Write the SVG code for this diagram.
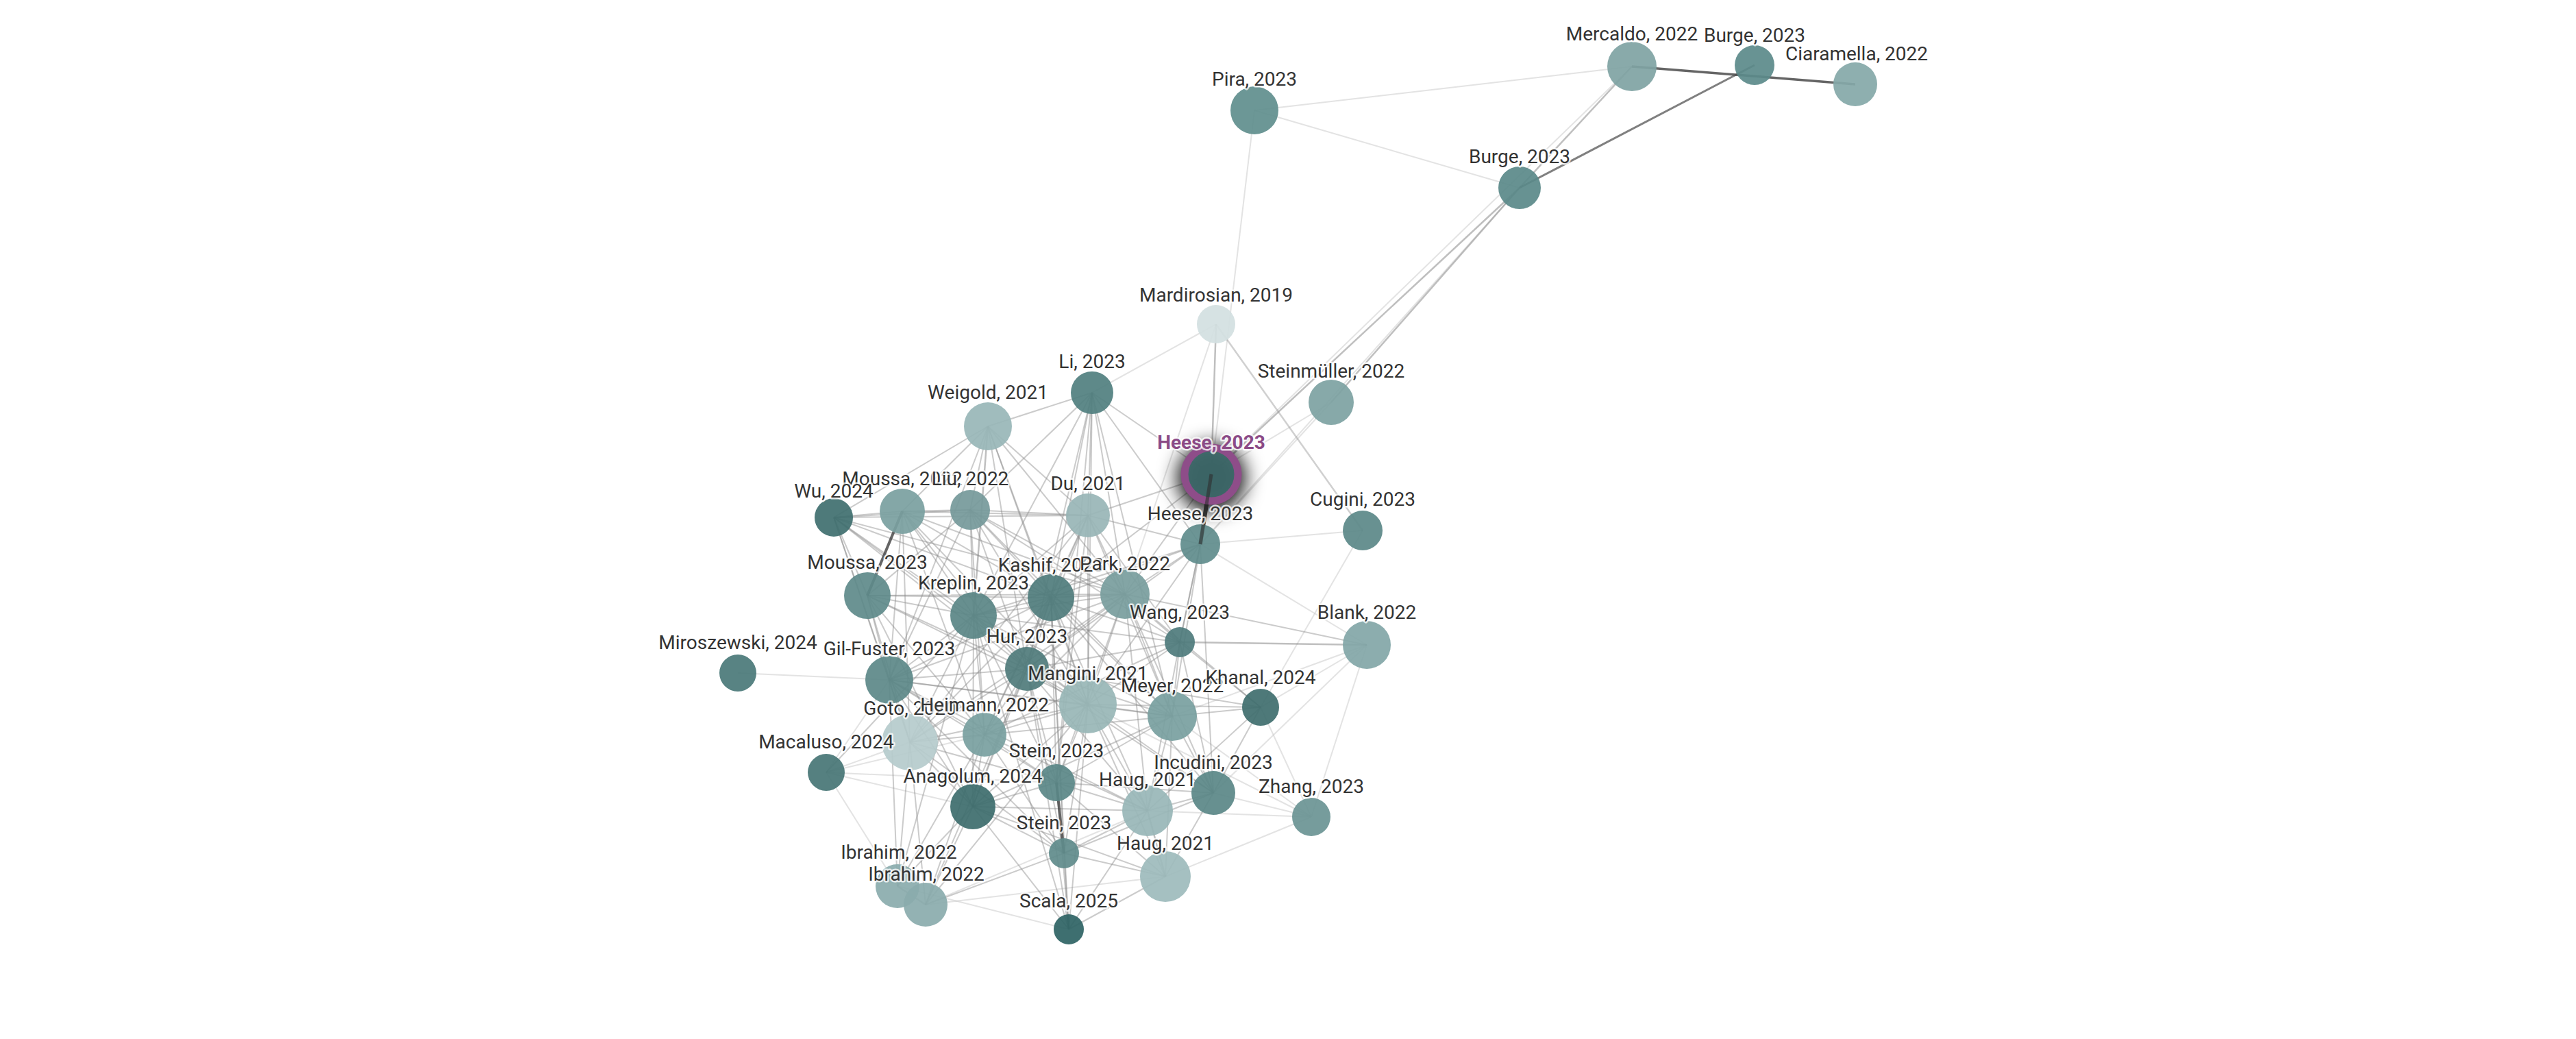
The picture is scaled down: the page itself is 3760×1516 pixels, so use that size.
<svg xmlns="http://www.w3.org/2000/svg" width="3760" height="1516" viewBox="0 0 3760 1516">
<style>
.bg{fill:#ffffff}
.e line{stroke:#8c8c8c;stroke-opacity:.45;stroke-width:2}
.l line{stroke:#c8c8c8;stroke-opacity:.5;stroke-width:2}
.m line{stroke:#8a8a8a;stroke-opacity:.55;stroke-width:2.5}
.d line{stroke:#4a4a4a;stroke-opacity:.85;stroke-width:4}
.node circle{fill-opacity:.92}
.lab{font-family:Roboto,"Liberation Sans",sans-serif;font-size:28px;fill:#333333;text-anchor:middle;stroke:#ffffff;stroke-opacity:.75;stroke-width:5;stroke-linejoin:round;paint-order:stroke}
.hl{fill:#8b4a86;font-weight:700}
</style>
<defs>
<filter id="sh" x="-100%" y="-100%" width="300%" height="300%"><feGaussianBlur stdDeviation="14"/></filter>
</defs>
<rect class="bg" x="0" y="0" width="3760" height="1516"/>
<g id="connectors">
<g class="l">
<line x1="1831" y1="161" x2="2382" y2="97"/>
<line x1="1831" y1="161" x2="2218" y2="274"/>
<line x1="1831" y1="161" x2="1768" y2="692"/>
<line x1="2382" y1="97" x2="1768" y2="692"/>
<line x1="2218" y1="274" x2="1752" y2="794"/>
<line x1="1775" y1="473" x2="1594" y2="573"/>
<line x1="1943" y1="587" x2="1768" y2="692"/>
<line x1="1943" y1="587" x2="1752" y2="794"/>
<line x1="1752" y1="794" x2="1989" y2="774"/>
<line x1="1752" y1="794" x2="1995" y2="941"/>
<line x1="1775" y1="473" x2="1642" y2="867"/>
<line x1="1995" y1="941" x2="1711" y2="1045"/>
<line x1="1995" y1="941" x2="1771" y2="1157"/>
<line x1="1995" y1="941" x2="1914" y2="1192"/>
<line x1="1995" y1="941" x2="1840" y2="1032"/>
<line x1="1989" y1="774" x2="1840" y2="1032"/>
<line x1="1077" y1="982" x2="1298" y2="992"/>
<line x1="1206" y1="1127" x2="1420" y2="1177"/>
<line x1="1206" y1="1127" x2="1437" y2="1072"/>
<line x1="1206" y1="1127" x2="1310" y2="1293"/>
<line x1="1206" y1="1127" x2="1542" y2="1142"/>
<line x1="1206" y1="1127" x2="1328" y2="1083"/>
<line x1="1206" y1="1127" x2="1298" y2="992"/>
<line x1="1914" y1="1192" x2="1771" y2="1157"/>
<line x1="1914" y1="1192" x2="1675" y2="1183"/>
<line x1="1914" y1="1192" x2="1701" y2="1279"/>
<line x1="1914" y1="1192" x2="1711" y2="1045"/>
<line x1="1914" y1="1192" x2="1840" y2="1032"/>
<line x1="1914" y1="1192" x2="1588" y2="1028"/>
<line x1="1310" y1="1293" x2="1560" y2="1356"/>
<line x1="1351" y1="1320" x2="1701" y2="1279"/>
<line x1="1351" y1="1320" x2="1675" y2="1183"/>
</g>
<g class="e">
<line x1="1594" y1="573" x2="1588" y2="752"/>
<line x1="1594" y1="573" x2="1534" y2="872"/>
<line x1="1594" y1="573" x2="1642" y2="867"/>
<line x1="1594" y1="573" x2="1499" y2="976"/>
<line x1="1594" y1="573" x2="1421" y2="898"/>
<line x1="1594" y1="573" x2="1416" y2="744"/>
<line x1="1594" y1="573" x2="1588" y2="1028"/>
<line x1="1594" y1="573" x2="1752" y2="794"/>
<line x1="1594" y1="573" x2="1542" y2="1142"/>
<line x1="1594" y1="573" x2="1711" y2="1045"/>
<line x1="1594" y1="573" x2="1442" y2="622"/>
<line x1="1442" y1="622" x2="1217" y2="755"/>
<line x1="1442" y1="622" x2="1534" y2="872"/>
<line x1="1442" y1="622" x2="1588" y2="1028"/>
<line x1="1442" y1="622" x2="1499" y2="976"/>
<line x1="1442" y1="622" x2="1416" y2="744"/>
<line x1="1442" y1="622" x2="1317" y2="746"/>
<line x1="1442" y1="622" x2="1642" y2="867"/>
<line x1="1442" y1="622" x2="1298" y2="992"/>
<line x1="1442" y1="622" x2="1588" y2="752"/>
<line x1="1217" y1="755" x2="1317" y2="746"/>
<line x1="1217" y1="755" x2="1416" y2="744"/>
<line x1="1217" y1="755" x2="1266" y2="869"/>
<line x1="1217" y1="755" x2="1298" y2="992"/>
<line x1="1217" y1="755" x2="1421" y2="898"/>
<line x1="1217" y1="755" x2="1534" y2="872"/>
<line x1="1217" y1="755" x2="1642" y2="867"/>
<line x1="1217" y1="755" x2="1499" y2="976"/>
<line x1="1217" y1="755" x2="1588" y2="1028"/>
<line x1="1217" y1="755" x2="1328" y2="1083"/>
<line x1="1217" y1="755" x2="1588" y2="752"/>
<line x1="1317" y1="746" x2="1416" y2="744"/>
<line x1="1317" y1="746" x2="1421" y2="898"/>
<line x1="1317" y1="746" x2="1534" y2="872"/>
<line x1="1317" y1="746" x2="1298" y2="992"/>
<line x1="1317" y1="746" x2="1499" y2="976"/>
<line x1="1317" y1="746" x2="1588" y2="1028"/>
<line x1="1317" y1="746" x2="1642" y2="867"/>
<line x1="1317" y1="746" x2="1588" y2="752"/>
<line x1="1317" y1="746" x2="1328" y2="1083"/>
<line x1="1317" y1="746" x2="1437" y2="1072"/>
<line x1="1416" y1="744" x2="1421" y2="898"/>
<line x1="1416" y1="744" x2="1534" y2="872"/>
<line x1="1416" y1="744" x2="1588" y2="752"/>
<line x1="1416" y1="744" x2="1642" y2="867"/>
<line x1="1416" y1="744" x2="1499" y2="976"/>
<line x1="1416" y1="744" x2="1588" y2="1028"/>
<line x1="1416" y1="744" x2="1266" y2="869"/>
<line x1="1416" y1="744" x2="1298" y2="992"/>
<line x1="1416" y1="744" x2="1437" y2="1072"/>
<line x1="1416" y1="744" x2="1711" y2="1045"/>
<line x1="1416" y1="744" x2="1722" y2="937"/>
<line x1="1588" y1="752" x2="1534" y2="872"/>
<line x1="1588" y1="752" x2="1642" y2="867"/>
<line x1="1588" y1="752" x2="1499" y2="976"/>
<line x1="1588" y1="752" x2="1588" y2="1028"/>
<line x1="1588" y1="752" x2="1421" y2="898"/>
<line x1="1588" y1="752" x2="1711" y2="1045"/>
<line x1="1588" y1="752" x2="1722" y2="937"/>
<line x1="1588" y1="752" x2="1752" y2="794"/>
<line x1="1588" y1="752" x2="1768" y2="692"/>
<line x1="1588" y1="752" x2="1328" y2="1083"/>
<line x1="1588" y1="752" x2="1437" y2="1072"/>
<line x1="1588" y1="752" x2="1542" y2="1142"/>
<line x1="1266" y1="869" x2="1421" y2="898"/>
<line x1="1266" y1="869" x2="1298" y2="992"/>
<line x1="1266" y1="869" x2="1328" y2="1083"/>
<line x1="1266" y1="869" x2="1499" y2="976"/>
<line x1="1266" y1="869" x2="1534" y2="872"/>
<line x1="1266" y1="869" x2="1588" y2="1028"/>
<line x1="1266" y1="869" x2="1437" y2="1072"/>
<line x1="1266" y1="869" x2="1420" y2="1177"/>
<line x1="1266" y1="869" x2="1642" y2="867"/>
<line x1="1421" y1="898" x2="1534" y2="872"/>
<line x1="1421" y1="898" x2="1499" y2="976"/>
<line x1="1421" y1="898" x2="1298" y2="992"/>
<line x1="1421" y1="898" x2="1328" y2="1083"/>
<line x1="1421" y1="898" x2="1437" y2="1072"/>
<line x1="1421" y1="898" x2="1588" y2="1028"/>
<line x1="1421" y1="898" x2="1642" y2="867"/>
<line x1="1421" y1="898" x2="1420" y2="1177"/>
<line x1="1421" y1="898" x2="1542" y2="1142"/>
<line x1="1421" y1="898" x2="1711" y2="1045"/>
<line x1="1421" y1="898" x2="1722" y2="937"/>
<line x1="1421" y1="898" x2="1310" y2="1293"/>
<line x1="1421" y1="898" x2="1560" y2="1356"/>
<line x1="1421" y1="898" x2="1206" y2="1127"/>
<line x1="1534" y1="872" x2="1642" y2="867"/>
<line x1="1534" y1="872" x2="1499" y2="976"/>
<line x1="1534" y1="872" x2="1588" y2="1028"/>
<line x1="1534" y1="872" x2="1711" y2="1045"/>
<line x1="1534" y1="872" x2="1722" y2="937"/>
<line x1="1534" y1="872" x2="1437" y2="1072"/>
<line x1="1534" y1="872" x2="1298" y2="992"/>
<line x1="1534" y1="872" x2="1328" y2="1083"/>
<line x1="1534" y1="872" x2="1542" y2="1142"/>
<line x1="1534" y1="872" x2="1553" y2="1245"/>
<line x1="1534" y1="872" x2="1420" y2="1177"/>
<line x1="1534" y1="872" x2="1675" y2="1183"/>
<line x1="1534" y1="872" x2="1560" y2="1356"/>
<line x1="1534" y1="872" x2="1771" y2="1157"/>
<line x1="1642" y1="867" x2="1722" y2="937"/>
<line x1="1642" y1="867" x2="1499" y2="976"/>
<line x1="1642" y1="867" x2="1588" y2="1028"/>
<line x1="1642" y1="867" x2="1711" y2="1045"/>
<line x1="1642" y1="867" x2="1840" y2="1032"/>
<line x1="1642" y1="867" x2="1437" y2="1072"/>
<line x1="1642" y1="867" x2="1752" y2="794"/>
<line x1="1642" y1="867" x2="1542" y2="1142"/>
<line x1="1642" y1="867" x2="1675" y2="1183"/>
<line x1="1642" y1="867" x2="1771" y2="1157"/>
<line x1="1642" y1="867" x2="1995" y2="941"/>
<line x1="1642" y1="867" x2="1328" y2="1083"/>
<line x1="1642" y1="867" x2="1298" y2="992"/>
<line x1="1722" y1="937" x2="1588" y2="1028"/>
<line x1="1722" y1="937" x2="1711" y2="1045"/>
<line x1="1722" y1="937" x2="1840" y2="1032"/>
<line x1="1722" y1="937" x2="1499" y2="976"/>
<line x1="1722" y1="937" x2="1771" y2="1157"/>
<line x1="1722" y1="937" x2="1752" y2="794"/>
<line x1="1722" y1="937" x2="1675" y2="1183"/>
<line x1="1722" y1="937" x2="1437" y2="1072"/>
<line x1="1499" y1="976" x2="1588" y2="1028"/>
<line x1="1499" y1="976" x2="1298" y2="992"/>
<line x1="1499" y1="976" x2="1328" y2="1083"/>
<line x1="1499" y1="976" x2="1437" y2="1072"/>
<line x1="1499" y1="976" x2="1711" y2="1045"/>
<line x1="1499" y1="976" x2="1542" y2="1142"/>
<line x1="1499" y1="976" x2="1420" y2="1177"/>
<line x1="1499" y1="976" x2="1675" y2="1183"/>
<line x1="1499" y1="976" x2="1553" y2="1245"/>
<line x1="1499" y1="976" x2="1771" y2="1157"/>
<line x1="1499" y1="976" x2="1560" y2="1356"/>
<line x1="1499" y1="976" x2="1351" y2="1320"/>
<line x1="1298" y1="992" x2="1328" y2="1083"/>
<line x1="1298" y1="992" x2="1437" y2="1072"/>
<line x1="1298" y1="992" x2="1588" y2="1028"/>
<line x1="1298" y1="992" x2="1420" y2="1177"/>
<line x1="1298" y1="992" x2="1542" y2="1142"/>
<line x1="1298" y1="992" x2="1711" y2="1045"/>
<line x1="1298" y1="992" x2="1310" y2="1293"/>
<line x1="1298" y1="992" x2="1675" y2="1183"/>
<line x1="1298" y1="992" x2="1553" y2="1245"/>
<line x1="1588" y1="1028" x2="1711" y2="1045"/>
<line x1="1588" y1="1028" x2="1840" y2="1032"/>
<line x1="1588" y1="1028" x2="1437" y2="1072"/>
<line x1="1588" y1="1028" x2="1542" y2="1142"/>
<line x1="1588" y1="1028" x2="1420" y2="1177"/>
<line x1="1588" y1="1028" x2="1675" y2="1183"/>
<line x1="1588" y1="1028" x2="1771" y2="1157"/>
<line x1="1588" y1="1028" x2="1328" y2="1083"/>
<line x1="1588" y1="1028" x2="1553" y2="1245"/>
<line x1="1588" y1="1028" x2="1701" y2="1279"/>
<line x1="1588" y1="1028" x2="1560" y2="1356"/>
<line x1="1588" y1="1028" x2="1351" y2="1320"/>
<line x1="1711" y1="1045" x2="1840" y2="1032"/>
<line x1="1711" y1="1045" x2="1771" y2="1157"/>
<line x1="1711" y1="1045" x2="1675" y2="1183"/>
<line x1="1711" y1="1045" x2="1542" y2="1142"/>
<line x1="1711" y1="1045" x2="1701" y2="1279"/>
<line x1="1711" y1="1045" x2="1437" y2="1072"/>
<line x1="1711" y1="1045" x2="1420" y2="1177"/>
<line x1="1840" y1="1032" x2="1771" y2="1157"/>
<line x1="1840" y1="1032" x2="1499" y2="976"/>
<line x1="1840" y1="1032" x2="1675" y2="1183"/>
<line x1="1328" y1="1083" x2="1437" y2="1072"/>
<line x1="1328" y1="1083" x2="1420" y2="1177"/>
<line x1="1328" y1="1083" x2="1310" y2="1293"/>
<line x1="1328" y1="1083" x2="1542" y2="1142"/>
<line x1="1328" y1="1083" x2="1351" y2="1320"/>
<line x1="1328" y1="1083" x2="1553" y2="1245"/>
<line x1="1437" y1="1072" x2="1420" y2="1177"/>
<line x1="1437" y1="1072" x2="1542" y2="1142"/>
<line x1="1437" y1="1072" x2="1675" y2="1183"/>
<line x1="1437" y1="1072" x2="1553" y2="1245"/>
<line x1="1437" y1="1072" x2="1310" y2="1293"/>
<line x1="1437" y1="1072" x2="1351" y2="1320"/>
<line x1="1542" y1="1142" x2="1420" y2="1177"/>
<line x1="1542" y1="1142" x2="1675" y2="1183"/>
<line x1="1542" y1="1142" x2="1701" y2="1279"/>
<line x1="1542" y1="1142" x2="1560" y2="1356"/>
<line x1="1542" y1="1142" x2="1771" y2="1157"/>
<line x1="1420" y1="1177" x2="1553" y2="1245"/>
<line x1="1420" y1="1177" x2="1310" y2="1293"/>
<line x1="1420" y1="1177" x2="1351" y2="1320"/>
<line x1="1420" y1="1177" x2="1560" y2="1356"/>
<line x1="1420" y1="1177" x2="1675" y2="1183"/>
<line x1="1420" y1="1177" x2="1701" y2="1279"/>
<line x1="1771" y1="1157" x2="1675" y2="1183"/>
<line x1="1771" y1="1157" x2="1701" y2="1279"/>
<line x1="1771" y1="1157" x2="1553" y2="1245"/>
<line x1="1675" y1="1183" x2="1553" y2="1245"/>
<line x1="1675" y1="1183" x2="1560" y2="1356"/>
<line x1="1553" y1="1245" x2="1560" y2="1356"/>
<line x1="1553" y1="1245" x2="1701" y2="1279"/>
<line x1="1553" y1="1245" x2="1351" y2="1320"/>
<line x1="1701" y1="1279" x2="1560" y2="1356"/>
<line x1="1752" y1="794" x2="1588" y2="1028"/>
<line x1="1752" y1="794" x2="1534" y2="872"/>
<line x1="1752" y1="794" x2="1722" y2="937"/>
<line x1="1752" y1="794" x2="1711" y2="1045"/>
<line x1="1752" y1="794" x2="1499" y2="976"/>
<line x1="1752" y1="794" x2="1421" y2="898"/>
<line x1="1752" y1="794" x2="1771" y2="1157"/>
<line x1="1768" y1="692" x2="1594" y2="573"/>
<line x1="1768" y1="692" x2="1642" y2="867"/>
<line x1="1768" y1="692" x2="1534" y2="872"/>
</g>
<g class="m">
<line x1="2382" y1="97" x2="2218" y2="274"/>
<line x1="2218" y1="274" x2="1768" y2="692"/>
<line x1="2218" y1="274" x2="1943" y2="587"/>
<line x1="1775" y1="473" x2="1768" y2="692"/>
<line x1="1775" y1="473" x2="1989" y2="774" style="stroke-opacity:.4"/>
<line x1="1722" y1="937" x2="1995" y2="941"/>
<line x1="1442" y1="622" x2="1421" y2="898"/>
<line x1="1675" y1="1183" x2="1701" y2="1279"/>
<line x1="1310" y1="1293" x2="1351" y2="1320"/>
</g>
<g class="d">
<line x1="2382" y1="97" x2="2708" y2="123" style="stroke-width:3.5"/>
<line x1="2561" y1="95" x2="2218" y2="274" style="stroke-width:3;stroke-opacity:.7"/>
<line x1="1768" y1="692" x2="1752" y2="794" style="stroke-width:6;stroke:#2e2e2e"/>
<line x1="1317" y1="746" x2="1266" y2="869"/>
<line x1="1542" y1="1142" x2="1553" y2="1245"/>
</g>
</g>
<g id="nodes">
<g id="n-mercaldo-2022" class="node"><circle cx="2382" cy="97" r="36" fill="#7fa3a3"/></g>
<g id="n-burge-2023-a" class="node"><circle cx="2561" cy="95" r="29" fill="#5b8a8a"/></g>
<g id="n-ciaramella-2022" class="node"><circle cx="2708" cy="123" r="32" fill="#84a8a8"/></g>
<g id="n-pira-2023" class="node"><circle cx="1831" cy="161" r="35" fill="#5f8e8d"/></g>
<g id="n-burge-2023-b" class="node"><circle cx="2218" cy="274" r="31" fill="#5a8989"/></g>
<g id="n-mardirosian-2019" class="node"><circle cx="1775" cy="473" r="28" fill="#d2e0e1"/></g>
<g id="n-li-2023" class="node"><circle cx="1594" cy="573" r="31" fill="#507f7f"/></g>
<g id="n-weigold-2021" class="node"><circle cx="1442" cy="622" r="35" fill="#98b6b7"/></g>
<g id="n-steinmuller-2022" class="node"><circle cx="1943" cy="587" r="33" fill="#7da2a2"/></g>
<g id="n-cugini-2023" class="node"><circle cx="1989" cy="774" r="29" fill="#5b8888"/></g>
<g id="n-heese-2023-b" class="node"><circle cx="1752" cy="794" r="29" fill="#5f8c8c"/></g>
<g id="n-wu-2024" class="node"><circle cx="1217" cy="755" r="28" fill="#3f6f6f"/></g>
<g id="n-moussa-2022" class="node"><circle cx="1317" cy="746" r="33" fill="#7aa0a0"/></g>
<g id="n-liu-2022" class="node"><circle cx="1416" cy="744" r="29" fill="#75999a"/></g>
<g id="n-du-2021" class="node"><circle cx="1588" cy="752" r="32" fill="#98b5b6"/></g>
<g id="n-moussa-2023" class="node"><circle cx="1266" cy="869" r="34" fill="#5e8a8a"/></g>
<g id="n-kreplin-2023" class="node"><circle cx="1421" cy="898" r="34" fill="#5a8686"/></g>
<g id="n-kashif" class="node"><circle cx="1534" cy="872" r="34" fill="#4f7c7c"/></g>
<g id="n-park-2022" class="node"><circle cx="1642" cy="867" r="36" fill="#789d9d"/></g>
<g id="n-wang-2023" class="node"><circle cx="1722" cy="937" r="22" fill="#4e7b7c"/></g>
<g id="n-blank-2022" class="node"><circle cx="1995" cy="941" r="35" fill="#82a6a7"/></g>
<g id="n-miroszewski-2024" class="node"><circle cx="1077" cy="982" r="27" fill="#4a7878"/></g>
<g id="n-hur-2023" class="node"><circle cx="1499" cy="976" r="32" fill="#4f7b7b"/></g>
<g id="n-gil-fuster-2023" class="node"><circle cx="1298" cy="992" r="35" fill="#5c8888"/></g>
<g id="n-mangini-2021" class="node"><circle cx="1588" cy="1028" r="42" fill="#98b6b6"/></g>
<g id="n-khanal-2024" class="node"><circle cx="1840" cy="1032" r="27" fill="#3f6e6e"/></g>
<g id="n-meyer-2022" class="node"><circle cx="1711" cy="1045" r="36" fill="#78a0a0"/></g>
<g id="n-goto-2020" class="node"><circle cx="1328" cy="1083" r="41" fill="#b5cbcc"/></g>
<g id="n-heimann-2022" class="node"><circle cx="1437" cy="1072" r="32" fill="#78a0a0"/></g>
<g id="n-macaluso-2024" class="node"><circle cx="1206" cy="1127" r="27" fill="#467575"/></g>
<g id="n-stein-2023-a" class="node"><circle cx="1542" cy="1142" r="27" fill="#5a8787"/></g>
<g id="n-anagolum-2024" class="node"><circle cx="1420" cy="1177" r="33" fill="#3d6d6d"/></g>
<g id="n-incudini-2023" class="node"><circle cx="1771" cy="1157" r="32" fill="#5a8787"/></g>
<g id="n-zhang-2023" class="node"><circle cx="1914" cy="1192" r="28" fill="#6a9494"/></g>
<g id="n-haug-2021-a" class="node"><circle cx="1675" cy="1183" r="37" fill="#98b6b7"/></g>
<g id="n-stein-2023-b" class="node"><circle cx="1553" cy="1245" r="22" fill="#5f8b8b"/></g>
<g id="n-haug-2021-b" class="node"><circle cx="1701" cy="1279" r="37" fill="#9dbbbc"/></g>
<g id="n-ibrahim-2022-a" class="node"><circle cx="1310" cy="1293" r="32" fill="#8aabac"/></g>
<g id="n-ibrahim-2022-b" class="node"><circle cx="1351" cy="1320" r="32" fill="#8aabac"/></g>
<g id="n-scala-2025" class="node"><circle cx="1560" cy="1356" r="22" fill="#2e6364"/></g>
<g id="n-heese-2023-a" class="node">
<circle cx="1768" cy="697" r="50" fill="#000000" fill-opacity=".4" filter="url(#sh)"/>
<circle cx="1768" cy="692" r="39" fill="#3f6b6c" fill-opacity="1" stroke="#8e4d89" stroke-width="11"/>
<line x1="1768" y1="692" x2="1752" y2="794" stroke="#2e2e2e" stroke-opacity=".6" stroke-width="5"/>
</g>
</g>
<g id="labels">
<text class="lab" x="2382" y="59">Mercaldo, 2022</text>
<text class="lab" x="2561" y="61">Burge, 2023</text>
<text class="lab" x="2710" y="88">Ciaramella, 2022</text>
<text class="lab" x="1831" y="125">Pira, 2023</text>
<text class="lab" x="2218" y="238">Burge, 2023</text>
<text class="lab" x="1775" y="440">Mardirosian, 2019</text>
<text class="lab" x="1594" y="537">Li, 2023</text>
<text class="lab" x="1442" y="582">Weigold, 2021</text>
<text class="lab" x="1943" y="551">Steinmüller, 2022</text>
<text class="lab" x="1989" y="738">Cugini, 2023</text>
<text class="lab" x="1752" y="759">Heese, 2023</text>
<text class="lab" x="1317" y="708">Moussa, 2022</text>
<text class="lab" x="1217" y="726">Wu, 2024</text>
<text class="lab" x="1416" y="708">Liu, 2022</text>
<text class="lab" x="1588" y="715">Du, 2021</text>
<text class="lab" x="1266" y="830">Moussa, 2023</text>
<text class="lab" x="1534" y="834">Kashif, 2023</text>
<text class="lab" x="1642" y="832">Park, 2022</text>
<text class="lab" x="1421" y="860">Kreplin, 2023</text>
<text class="lab" x="1722" y="903">Wang, 2023</text>
<text class="lab" x="1995" y="903">Blank, 2022</text>
<text class="lab" x="1077" y="947">Miroszewski, 2024</text>
<text class="lab" x="1499" y="938">Hur, 2023</text>
<text class="lab" x="1298" y="956">Gil-Fuster, 2023</text>
<text class="lab" x="1588" y="992">Mangini, 2021</text>
<text class="lab" x="1711" y="1010">Meyer, 2022</text>
<text class="lab" x="1840" y="998">Khanal, 2024</text>
<text class="lab" x="1328" y="1043">Goto, 2020</text>
<text class="lab" x="1437" y="1038">Heimann, 2022</text>
<text class="lab" x="1206" y="1092">Macaluso, 2024</text>
<text class="lab" x="1542" y="1105">Stein, 2023</text>
<text class="lab" x="1420" y="1142">Anagolum, 2024</text>
<text class="lab" x="1771" y="1122">Incudini, 2023</text>
<text class="lab" x="1675" y="1147">Haug, 2021</text>
<text class="lab" x="1914" y="1157">Zhang, 2023</text>
<text class="lab" x="1553" y="1210">Stein, 2023</text>
<text class="lab" x="1701" y="1240">Haug, 2021</text>
<text class="lab" x="1312" y="1253">Ibrahim, 2022</text>
<text class="lab" x="1352" y="1285">Ibrahim, 2022</text>
<text class="lab" x="1560" y="1324">Scala, 2025</text>
<text class="lab hl" x="1768" y="655">Heese, 2023</text>
</g>
</svg>
